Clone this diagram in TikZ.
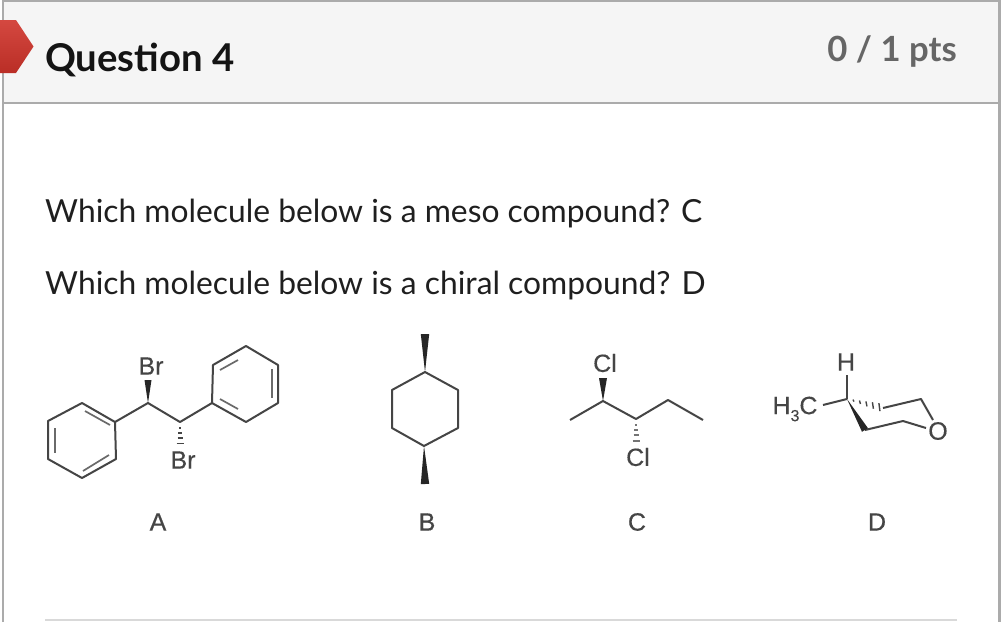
\documentclass[tikz,border=0pt]{standalone}
\usepackage{fontspec}
\setmainfont{Lato}
\newfontfamily\chemfont[FakeBold=0.25]{Liberation Sans}
\newfontfamily\letterfont[FakeBold=0.6]{Liberation Sans}
\usetikzlibrary{calc}
\definecolor{frame}{HTML}{ABABAB}
\definecolor{headbg}{HTML}{F5F5F5}
\definecolor{bondc}{HTML}{454545}
\definecolor{ptsc}{HTML}{666666}
\tikzset{
  x=1pt,y=-1pt,
  body/.style={anchor=base west,inner sep=0pt,font=\fontsize{31.8}{36}\selectfont,text=black!88},
  chem/.style={inner sep=0pt,font=\chemfont\fontsize{25}{28}\selectfont,text=bondc},
  letter/.style={inner sep=0pt,font=\letterfont\fontsize{25}{28}\selectfont,text=bondc},
  bond/.style={draw=bondc,line width=2pt,line join=round},
  inner bond/.style={draw=bondc!80,line width=1.7pt},
  wedge/.style={fill=black!85,draw=none},
  hash/.style={draw=bondc,line width=1.6pt},
}
\newcommand{\wedgebond}[3]{\fill[wedge] (#1) -- ($(#2)!#3!90:(#1)$) -- ($(#2)!#3!-90:(#1)$) -- cycle;}
\begin{document}
\begin{tikzpicture}
\useasboundingbox (0,0) rectangle (1002,622);
\fill[white] (0,0) rectangle (1002,622);
% header
\fill[headbg] (3,2) rectangle (999,103);
\draw[frame,line width=2.4pt] (3,622) -- (3,1.2) -- (999.5,1.2) -- (999.5,622);
\draw[frame,line width=2pt] (3,103) -- (999.5,103);
\draw[black!15,line width=2pt] (45,620) -- (957,620);
\shade[top color={rgb,255:red,212;green,72;blue,64},bottom color={rgb,255:red,186;green,46;blue,38}]
  (0,20) -- (16,20) -- (33.5,46.5) -- (16,73) -- (0,73) -- cycle;
\node[anchor=base west,inner sep=0pt,font=\fontsize{38.3}{42}\selectfont\bfseries,text=black!92] (title) at (45,71) {Question 4};
\node[anchor=base east,inner sep=0pt,font=\fontsize{34.7}{38}\selectfont\bfseries,text=ptsc] (pts) at (957,61) {0 / 1 pts};
\node[body] (q1) at (45,222) {Which molecule below is a meso compound? C};
\node[body] (q2) at (45,294) {Which molecule below is a chiral compound? D};
% Molecule A
\coordinate (a1) at (115,422); \coordinate (a2) at (82,403); \coordinate (a3) at (48,421);
\coordinate (a4) at (48,459); \coordinate (a5) at (82,478); \coordinate (a6) at (116,459);
\coordinate (a7) at (148,403); \coordinate (a8) at (180,422);
\coordinate (a9) at (212,403); \coordinate (a10) at (246,422); \coordinate (a11) at (278,403);
\coordinate (a12) at (278,365); \coordinate (a13) at (246,346); \coordinate (a14) at (213,365);
\draw[bond] (a1) -- (a2) -- (a3) -- (a4) -- (a5) -- (a6) -- cycle;
\draw[bond] (a1) -- (a7) -- (a8) -- (a9);
\draw[bond] (a9) -- (a10) -- (a11) -- (a12) -- (a13) -- (a14) -- cycle;
\draw[inner bond] (110,425) -- (85,411);
\draw[inner bond] (55,428) -- (55,453);
\draw[inner bond] (83,471) -- (109,455);
\draw[inner bond] (220,399) -- (238,409);
\draw[inner bond] (272,369) -- (272,398);
\draw[inner bond] (220,370) -- (238,360);
\coordinate (awb) at (148,380);
\wedgebond{a7}{awb}{3.5pt}
\foreach \y/\w in {428/2.5,433/3.5,438/5,443.5/7}{\draw[hash] (180-\w/2,\y) -- (180+\w/2,\y);}
\node[chem] (abr1) at (151,366) {Br};
\node[chem] (abr2) at (183,460) {Br};
\node[letter] (la) at (158,522) {A};
% Molecule B
\coordinate (b1) at (425,372); \coordinate (b2) at (458,390); \coordinate (b3) at (458,428);
\coordinate (b4) at (424,446); \coordinate (b5) at (392,428); \coordinate (b6) at (392,390);
\coordinate (bt) at (425,334); \coordinate (bb) at (425,484);
\draw[bond] (b1) -- (b2) -- (b3) -- (b4) -- (b5) -- (b6) -- cycle;
\wedgebond{b1}{bt}{4.2pt}
\wedgebond{b4}{bb}{4.2pt}
\node[letter] (lb) at (427,522) {B};
% Molecule C
\coordinate (c1) at (570,420); \coordinate (c2) at (603,401); \coordinate (c3) at (636,419);
\coordinate (c4) at (668,400); \coordinate (c5) at (703,420); \coordinate (cwb) at (603,378);
\draw[bond] (c1) -- (c2) -- (c3) -- (c4) -- (c5);
\wedgebond{c2}{cwb}{4pt}
\foreach \y/\w in {425/2.5,430/3.5,435/5,441/7}{\draw[hash,draw=bondc!75] (636-\w/2,\y) -- (636+\w/2,\y);}
\node[chem] (ccl1) at (605,363) {Cl};
\node[chem] (ccl2) at (638,457) {Cl};
\node[letter] (lc) at (637,522) {C};
% Molecule D
\coordinate (d1) at (847,399); \coordinate (d2) at (865,430); \coordinate (d3) at (903,421);
\coordinate (d4) at (926,428); \coordinate (d5) at (933,420); \coordinate (d6) at (921,399);
\coordinate (d7) at (883,408);
\node[chem] (dh) at (846,362) {H};
\node[chem] (dme) at (795,409) {H\raisebox{-0.28em}{\fontsize{16}{18}\selectfont 3}C};
\node[chem] (dox) at (938,431) {O};
\draw[bond] (847,375) -- (d1);
\draw[bond] (823,405) -- (d1);
\draw[bond] (d2) -- (d3) -- (d4);
\draw[bond] (d5) -- (d6) -- (d7);
\wedgebond{d1}{d2}{3.5pt}
\foreach \t/\w in {0.2/2,0.4/3.5,0.6/5,0.8/6.5,1/8}{
  \draw[hash,line width=1.4pt] ($(d1)!\t*0.9!(d7)+(-0.5,-\w/2)$) -- ($(d1)!\t*0.9!(d7)+(0.5,\w/2)$);}
\node[letter] (ld) at (877,522) {D};
\end{tikzpicture}
\end{document}
